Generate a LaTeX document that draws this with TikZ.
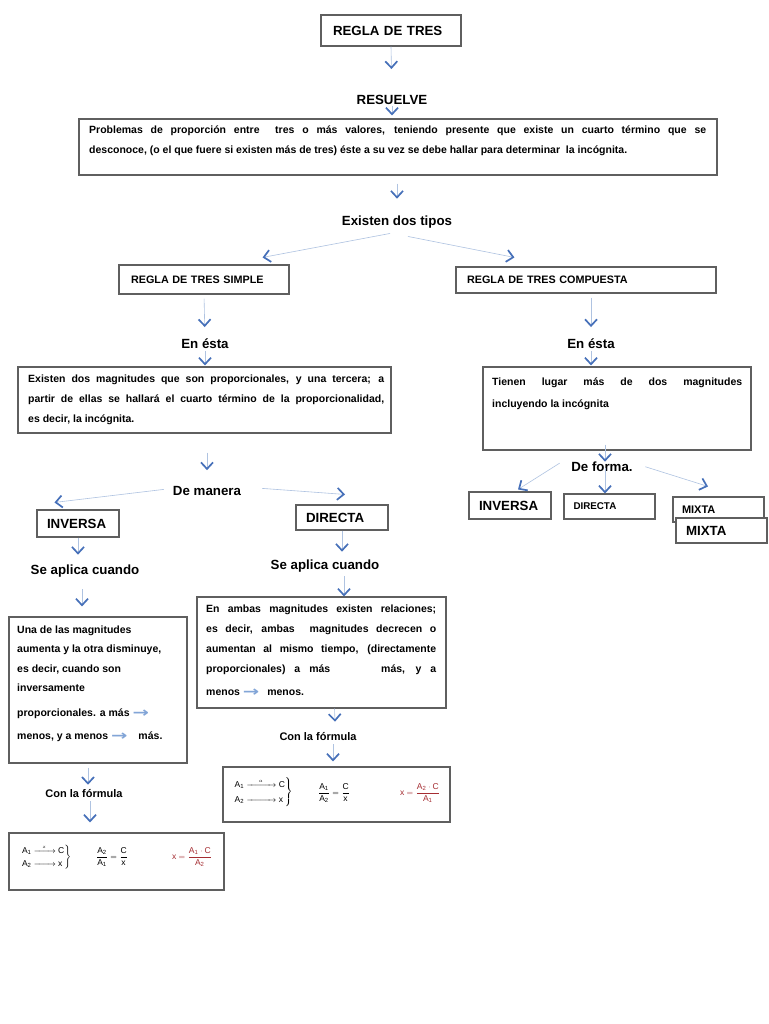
\documentclass[tikz,border=0pt]{standalone}
\usepackage{amsmath}
\usepackage{graphicx}
\usepackage{fontspec}
\setmainfont{Liberation Sans}
\setsansfont{Liberation Sans}
\newfontfamily\dejavu{DejaVu Sans}
\usetikzlibrary{arrows.meta,calc}
\definecolor{boxc}{RGB}{95,95,95}
\definecolor{linec}{RGB}{175,195,225}
\definecolor{arrc}{RGB}{70,112,185}
\definecolor{arrlight}{RGB}{130,165,215}
\definecolor{fred}{RGB}{165,45,50}
\newcommand\inarr{{\dejavu\fontsize{14}{14}\selectfont\color{arrlight}\raisebox{-1pt}{\scalebox{1.4}[1]{→}}}}
\newcommand\jline[2]{\makebox[#1][s]{#2}}
\newcommand\sA[1]{\mathsf{A}_{\mathsf{#1}}}
\tikzset{
  bx/.style={draw=boxc, line width=1.1pt, fill=white, inner sep=0pt},
  ttl/.style={font=\bfseries\fontsize{13.3}{16}\selectfont, inner sep=0pt},
  ttlf/.style={font=\bfseries\fontsize{13.3}{16}\selectfont},
  smallttl/.style={font=\bfseries\fontsize{11}{13}\selectfont, inner sep=0pt},
  body/.style={font=\bfseries\fontsize{10.5}{20}\selectfont, inner sep=0pt, align=left, anchor=west},
  fml/.style={font=\fontsize{8.5}{10}\selectfont, inner sep=0pt},
  conn/.style={draw=linec, line width=0.6pt, -{Straight Barb[color=arrc, length=6.5pt, width=12pt, line width=1.7pt]}},
}
\begin{document}
\begin{tikzpicture}[x=1pt,y=-1pt]
\useasboundingbox (0,0) rectangle (768,1024);
\fill[white] (0,0) rectangle (768,1024);

% ---------- top ----------
\node[bx, ttlf, minimum height=31, text width=116, inner xsep=12, align=left] (t1) at (391,30.5) {REGLA DE TRES};
\node[ttl, anchor=base] (resuelve) at (392,104.5) {RESUELVE};
\node[bx, minimum width=638, minimum height=56] (prob) at (398,147) {};
\node[body] (probt) at (89,141) {\jline{617pt}{Problemas de proporción entre\ \ tres o más valores, teniendo presente que existe un cuarto término que se}\\
desconoce, (o el que fuere si existen más de tres) éste a su vez se debe hallar para determinar\ \ la incógnita.};
\node[ttl, anchor=base] (tipos) at (397,225.5) {Existen dos tipos};

\node[bx, minimum height=29, text width=146, inner xsep=12, align=left, font=\bfseries\fontsize{10.8}{13}\selectfont] (simple) at (204,279.5) {REGLA DE TRES SIMPLE};
\node[bx, minimum height=26, text width=238, inner xsep=11, align=left, font=\bfseries\fontsize{10.8}{13}\selectfont] (compuesta) at (586,280) {REGLA DE TRES COMPUESTA};

\node[ttl, anchor=base] (enesta1) at (205,348.5) {En ésta};
\node[ttl, anchor=base] (enesta2) at (591,348.5) {En ésta};

% ---------- simple ----------
\node[bx, minimum width=373, minimum height=66] (exist) at (204.5,400) {};
\node[body] (existt) at (28,400) {\jline{356pt}{Existen dos magnitudes que son proporcionales, y una tercera; a}\\
\jline{356pt}{partir de ellas se hallará el cuarto término de la proporcionalidad,}\\
es decir, la incógnita.};

\node[ttl, anchor=base] (demanera) at (207,495.5) {De manera};
\node[bx, ttlf, minimum height=27, text width=62, inner xsep=10, align=left] (inversa1) at (78,523.5) {INVERSA};
\node[bx, ttlf, minimum height=25, text width=72, inner xsep=10, align=left] (directa1) at (342,517.5) {DIRECTA};
\node[ttl, anchor=base] (seaplica1) at (85,574.5) {Se aplica cuando};
\node[ttl, anchor=base] (seaplica2) at (325,569.5) {Se aplica cuando};

\node[bx, minimum width=178, minimum height=146] (una) at (98,690) {};
\node[body, font=\bfseries\fontsize{10.5}{19.5}\selectfont] (unat) at (17,684) {Una de las magnitudes\\
aumenta y la otra disminuye,\\
es decir, cuando son\\
inversamente\\[5pt]
proporcionales. a más \inarr\\[4pt]
menos, y a menos \inarr\hspace{8pt} más.};

\node[bx, minimum width=249, minimum height=111] (ambas) at (321.5,652.5) {};
\node[body] (ambast) at (206,651) {\jline{230pt}{En ambas magnitudes existen relaciones;}\\
\jline{230pt}{es decir, ambas\ \ magnitudes decrecen o}\\
\jline{230pt}{aumentan al mismo tiempo, (directamente}\\
\jline{230pt}{proporcionales) a más\hspace{42pt} más, y a}\\[3pt]
menos \inarr\hspace{5pt} menos.};

\node[smallttl, anchor=base] (conla1) at (318,740) {Con la fórmula};
\node[smallttl, anchor=base] (conla2) at (84,797) {Con la fórmula};

% formula boxes
\node[bx, minimum width=227, minimum height=55] (f1) at (336.5,794.5) {};
\node[fml] (f1a) at (263,792) {\renewcommand\arraystretch{1.5}$\left.\begin{array}{@{}l@{}}\sA1\xrightarrow{\hbox to 24pt{\hss$\scriptscriptstyle a$\hss}}\mathsf{C}\\ \sA2\xrightarrow{\hbox to 24pt{}}\mathsf{x}\end{array}\right\}$};
\node[fml] (f1b) at (334,793) {$\dfrac{\sA1}{\sA2}=\dfrac{\mathsf{C}}{\mathsf{x}}$};
\node[fml, text=fred] (f1c) at (420,793) {$\mathsf{x}=\dfrac{\sA2\cdot\mathsf{C}}{\sA1}$};

\node[bx, minimum width=215, minimum height=57] (f2) at (116.5,861.5) {};
\node[fml] (f2a) at (46,857) {\renewcommand\arraystretch{1.3}$\left.\begin{array}{@{}l@{}}\sA1\xrightarrow{\hbox to 16pt{\hss$\scriptscriptstyle z$\hss}}\mathsf{C}\\ \sA2\xrightarrow{\hbox to 16pt{}}\mathsf{x}\end{array}\right\}$};
\node[fml] (f2b) at (112,857) {$\dfrac{\sA2}{\sA1}=\dfrac{\mathsf{C}}{\mathsf{x}}$};
\node[fml, text=fred] (f2c) at (192,857) {$\mathsf{x}=\dfrac{\sA1\cdot\mathsf{C}}{\sA2}$};

% ---------- compuesta ----------
\node[bx, minimum width=268, minimum height=83] (tienen) at (617,408.5) {};
\node[body, font=\bfseries\fontsize{10.5}{22}\selectfont] (tienent) at (492,394) {\jline{250pt}{Tienen lugar más de dos magnitudes}\\
incluyendo la incógnita};
\node[ttl, anchor=base] (deforma) at (602,471.5) {De forma.};
\node[bx, ttlf, minimum height=27, text width=62, inner xsep=10, align=left] (inversa2) at (510,505.5) {INVERSA};
\node[bx, minimum height=25, text width=72, inner xsep=9.5, align=left, font=\bfseries\fontsize{9.8}{12}\selectfont] (directa2) at (609.5,506.5) {DIRECTA};
\node[bx, minimum height=25, text width=73, inner xsep=9, align=left, font=\bfseries\fontsize{11}{13}\selectfont] (mixta1) at (718.5,509.5) {MIXTA};
\node[bx, ttlf, minimum height=25, text width=71, inner xsep=10, align=left] (mixta2) at (721.5,530.5) {MIXTA};

% ---------- connectors ----------
\draw[conn, shorten >=26pt] (t1.south) -- (resuelve.north);
\draw[conn, shorten <=1pt, shorten >=3pt] (resuelve.south) -- (resuelve.south |- prob.north);
\draw[conn, shorten <=8pt, shorten >=17pt] (tipos.north |- prob.south) -- (tipos.north);
\draw[conn] ($(tipos.south)+(-7,5)$) -- ($(simple.north east)+(-27,-7)$);
\draw[conn] ($(tipos.south)+(11,8)$) -- ($(compuesta.north west)+(59,-9)$);
\draw[conn, shorten <=4pt, shorten >=11.5pt] (simple.south) -- (enesta1.north);
\draw[conn, shorten <=4pt, shorten >=11.5pt] (enesta2.north |- compuesta.south) -- (enesta2.north);
\draw[conn, shorten <=2pt, shorten >=1pt] (enesta1.south) -- (enesta1.south |- exist.north);
\draw[conn, shorten <=2pt, shorten >=1pt] (enesta2.south) -- (enesta2.south |- tienen.north);

\draw[conn, shorten <=19pt, shorten >=16pt] (demanera.north |- exist.south) -- (demanera.north);
\draw[conn] ($(demanera.west)+(-9,-1.6)$) -- ($(inversa1.north west)+(18,-7)$);
\draw[conn] ($(demanera.east)+(21,-2.6)$) -- ($(directa1.north)+(3,-10)$);
\draw[conn, shorten >=10pt] (inversa1.south) -- (inversa1.south |- seaplica1.north);
\draw[conn, shorten >=8pt] (directa1.south) -- (directa1.south |- seaplica2.north);
\draw[conn] ($(seaplica1.south)+(-3,12)$) -- ($(una.north)+(-16,-10)$);
\draw[conn] ($(seaplica2.south)+(19,4)$) -- ($(ambas.north)+(22.5,0)$);
\draw[conn] ($(ambas.south)+(13,0)$) -- ($(conla1.north)+(17,-10)$);
\draw[conn] ($(conla1.south)+(15,4)$) -- ($(f1.north)+(-3.5,-5)$);
\draw[conn] ($(una.south)+(-10,4)$) -- ($(conla2.north)+(4,-4)$);
\draw[conn] ($(conla2.south)+(6,4)$) -- ($(f2.north)+(-26.5,-10)$);

\draw[conn] ($(tienen.south)+(-12,-6)$) -- ($(deforma.north)+(3,0)$);
\draw[conn] ($(deforma.west)+(-11.5,-3.6)$) -- ($(inversa2.north)+(8,-2)$);
\draw[conn] ($(deforma.south)+(3,-4)$) -- ($(directa2.north)+(-4.5,0)$);
\draw[conn] ($(deforma.east)+(12.5,0)$) -- ($(mixta1.north)+(-10.5,-10)$);
\end{tikzpicture}
\end{document}
